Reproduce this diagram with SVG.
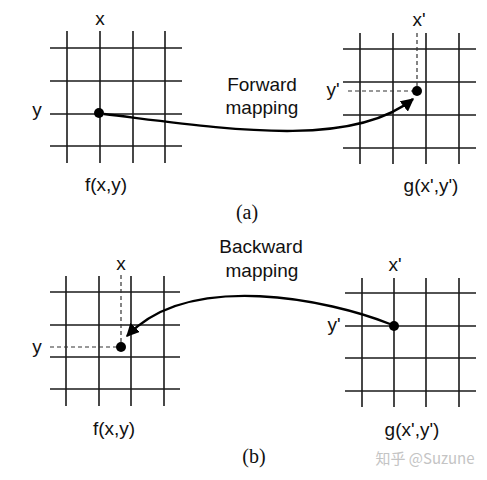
<svg xmlns="http://www.w3.org/2000/svg" width="487" height="480" viewBox="0 0 487 480">
<defs>
<style>
.grid line{stroke:#1a1a1a;stroke-width:1.6}
.dash{stroke:#333;stroke-width:1.2;stroke-dasharray:4 3;fill:none}
.dot{fill:#000}
.lbl{font-family:"Liberation Sans",Arial,sans-serif;font-size:19px;fill:#111;text-anchor:middle}
.cap{font-family:"Liberation Serif","Times New Roman",serif;font-size:20px;fill:#111;text-anchor:middle}
.wm{font-family:"Noto Sans CJK SC","Liberation Sans",sans-serif;font-size:15px;fill:#c4c4c4;text-anchor:middle}
.arc{stroke:#000;stroke-width:2.4;fill:none}
</style>
<marker id="ah" viewBox="0 0 10 10" refX="9" refY="5" markerWidth="5.5" markerHeight="5.5" orient="auto" markerUnits="strokeWidth">
<path d="M0,0 L10,5 L0,10 z" fill="#000"/>
</marker>
</defs>
<rect width="487" height="480" fill="#fff"/>

<g id="grid-a-src" class="grid">
<line x1="67" y1="31" x2="67" y2="163"/><line x1="100" y1="31" x2="100" y2="163"/><line x1="133" y1="31" x2="133" y2="163"/><line x1="165" y1="31" x2="165" y2="163"/>
<line x1="50" y1="48" x2="182" y2="48"/><line x1="50" y1="81" x2="182" y2="81"/><line x1="50" y1="114" x2="182" y2="114"/><line x1="50" y1="146" x2="182" y2="146"/>
<circle class="dot" cx="99" cy="113" r="5"/>
<text class="lbl" x="100" y="25">x</text>
<text class="lbl" x="37" y="116">y</text>
<text class="lbl" x="106" y="191">f(x,y)</text>
</g>

<g id="grid-a-dst" class="grid">
<line x1="360" y1="33" x2="360" y2="164"/><line x1="393" y1="33" x2="393" y2="164"/><line x1="426" y1="33" x2="426" y2="164"/><line x1="459" y1="33" x2="459" y2="164"/>
<line x1="343" y1="49" x2="476" y2="49"/><line x1="343" y1="82" x2="476" y2="82"/><line x1="343" y1="115" x2="476" y2="115"/><line x1="343" y1="148" x2="476" y2="148"/>
<path class="dash" d="M417,33 V91 M348,91 H417"/>
<circle class="dot" cx="417" cy="91" r="5"/>
<text class="lbl" x="419" y="26">x'</text>
<text class="lbl" x="333" y="96">y'</text>
<text class="lbl" x="431" y="192">g(x',y')</text>
</g>

<g id="grid-b-src" class="grid">
<line x1="66" y1="276" x2="66" y2="406"/><line x1="99" y1="276" x2="99" y2="406"/><line x1="131" y1="276" x2="131" y2="406"/><line x1="164" y1="276" x2="164" y2="406"/>
<line x1="50" y1="292" x2="180" y2="292"/><line x1="50" y1="325" x2="180" y2="325"/><line x1="50" y1="357" x2="180" y2="357"/><line x1="50" y1="389" x2="180" y2="389"/>
<path class="dash" d="M121,275 V347 M50,347 H121"/>
<circle class="dot" cx="121" cy="347" r="5"/>
<text class="lbl" x="121" y="270">x</text>
<text class="lbl" x="37" y="353">y</text>
<text class="lbl" x="114" y="435">f(x,y)</text>
</g>

<g id="grid-b-dst" class="grid">
<line x1="362" y1="278" x2="362" y2="407"/><line x1="394" y1="278" x2="394" y2="407"/><line x1="426" y1="278" x2="426" y2="407"/><line x1="459" y1="278" x2="459" y2="407"/>
<line x1="345" y1="293" x2="476" y2="293"/><line x1="345" y1="326" x2="476" y2="326"/><line x1="345" y1="358" x2="476" y2="358"/><line x1="345" y1="391" x2="476" y2="391"/>
<circle class="dot" cx="394" cy="326" r="5"/>
<text class="lbl" x="395" y="271">x'</text>
<text class="lbl" x="334" y="331">y'</text>
<text class="lbl" x="412" y="436">g(x',y')</text>
</g>

<g id="connectors">
<path class="arc" d="M104,114 C220,128 350,150 413,99" marker-end="url(#ah)"/>
<path class="arc" d="M390,324 C330,300 190,270 127,336" marker-end="url(#ah)"/>
</g>

<g id="labels">
<text class="lbl" x="262" y="91">Forward</text>
<text class="lbl" x="262" y="114">mapping</text>
<text class="lbl" x="261" y="253">Backward</text>
<text class="lbl" x="262" y="277">mapping</text>
<text class="cap" x="247" y="219">(a)</text>
<text class="cap" x="254" y="463">(b)</text>
<text class="wm" x="425" y="464">知乎 @Suzune</text>
</g>
</svg>
